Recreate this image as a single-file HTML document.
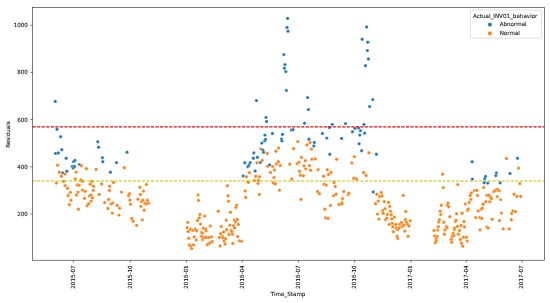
<!DOCTYPE html>
<html><head><meta charset="utf-8"><title>Residuals</title>
<style>html,body{margin:0;padding:0;background:#fff}svg{display:block}text{font-family:"DejaVu Sans","Liberation Sans",sans-serif;fill:#1c1c1c;stroke:#1c1c1c;stroke-width:0.12px}</style></head>
<body>
<svg width="550" height="303" viewBox="0 0 550 303">
<rect width="550" height="303" fill="#fff"/>
<g stroke="#fff" stroke-width="0.3">
<circle cx="55.2" cy="101.4" r="1.7" fill="#1f77b4"/>
<circle cx="55.6" cy="153.4" r="1.7" fill="#1f77b4"/>
<circle cx="56.4" cy="183.1" r="1.7" fill="#ff7f0e"/>
<circle cx="57" cy="129.2" r="1.7" fill="#1f77b4"/>
<circle cx="57.6" cy="165.2" r="1.7" fill="#ff7f0e"/>
<circle cx="58.4" cy="153" r="1.7" fill="#1f77b4"/>
<circle cx="59.3" cy="172.3" r="1.7" fill="#ff7f0e"/>
<circle cx="60.6" cy="136.8" r="1.7" fill="#1f77b4"/>
<circle cx="61.4" cy="176.3" r="1.7" fill="#ff7f0e"/>
<circle cx="61.8" cy="149.8" r="1.7" fill="#1f77b4"/>
<circle cx="62.8" cy="172.9" r="1.7" fill="#1f77b4"/>
<circle cx="63.7" cy="181.4" r="1.7" fill="#ff7f0e"/>
<circle cx="65" cy="174.1" r="1.7" fill="#ff7f0e"/>
<circle cx="65" cy="185.6" r="1.7" fill="#ff7f0e"/>
<circle cx="66.2" cy="158.2" r="1.7" fill="#1f77b4"/>
<circle cx="66.8" cy="171.3" r="1.7" fill="#1f77b4"/>
<circle cx="67.6" cy="188.3" r="1.7" fill="#ff7f0e"/>
<circle cx="68.1" cy="195.5" r="1.7" fill="#ff7f0e"/>
<circle cx="69.4" cy="204.8" r="1.7" fill="#ff7f0e"/>
<circle cx="70.4" cy="192.4" r="1.7" fill="#ff7f0e"/>
<circle cx="71" cy="200.3" r="1.7" fill="#ff7f0e"/>
<circle cx="72.3" cy="166.4" r="1.7" fill="#1f77b4"/>
<circle cx="73.2" cy="168" r="1.7" fill="#1f77b4"/>
<circle cx="73.6" cy="161.6" r="1.7" fill="#1f77b4"/>
<circle cx="74.5" cy="166.5" r="1.7" fill="#1f77b4"/>
<circle cx="74.9" cy="160.4" r="1.7" fill="#1f77b4"/>
<circle cx="75.3" cy="178.9" r="1.7" fill="#ff7f0e"/>
<circle cx="76.1" cy="172.1" r="1.7" fill="#ff7f0e"/>
<circle cx="76.5" cy="195" r="1.7" fill="#ff7f0e"/>
<circle cx="77.2" cy="185" r="1.7" fill="#ff7f0e"/>
<circle cx="78" cy="192.1" r="1.7" fill="#ff7f0e"/>
<circle cx="78.4" cy="209.3" r="1.7" fill="#ff7f0e"/>
<circle cx="79" cy="185.3" r="1.7" fill="#ff7f0e"/>
<circle cx="79.6" cy="164.6" r="1.7" fill="#1f77b4"/>
<circle cx="80.9" cy="179.9" r="1.7" fill="#ff7f0e"/>
<circle cx="81.5" cy="165.7" r="1.7" fill="#ff7f0e"/>
<circle cx="82.3" cy="181.4" r="1.7" fill="#ff7f0e"/>
<circle cx="82.6" cy="190.2" r="1.7" fill="#ff7f0e"/>
<circle cx="84.5" cy="198.4" r="1.7" fill="#ff7f0e"/>
<circle cx="85.2" cy="191.4" r="1.7" fill="#ff7f0e"/>
<circle cx="86.4" cy="168.7" r="1.7" fill="#ff7f0e"/>
<circle cx="87.1" cy="205.8" r="1.7" fill="#ff7f0e"/>
<circle cx="88.6" cy="203.8" r="1.7" fill="#ff7f0e"/>
<circle cx="89.5" cy="196.1" r="1.7" fill="#ff7f0e"/>
<circle cx="90.2" cy="184.3" r="1.7" fill="#ff7f0e"/>
<circle cx="90.9" cy="194.9" r="1.7" fill="#ff7f0e"/>
<circle cx="91.2" cy="201.1" r="1.7" fill="#ff7f0e"/>
<circle cx="91.9" cy="181.4" r="1.7" fill="#ff7f0e"/>
<circle cx="92.4" cy="197.9" r="1.7" fill="#ff7f0e"/>
<circle cx="93.2" cy="190.4" r="1.7" fill="#ff7f0e"/>
<circle cx="93.5" cy="186.3" r="1.7" fill="#ff7f0e"/>
<circle cx="96.1" cy="169.4" r="1.7" fill="#ff7f0e"/>
<circle cx="97.8" cy="141.8" r="1.7" fill="#1f77b4"/>
<circle cx="98.6" cy="147.2" r="1.7" fill="#1f77b4"/>
<circle cx="99.2" cy="194.5" r="1.7" fill="#ff7f0e"/>
<circle cx="101.7" cy="184" r="1.7" fill="#ff7f0e"/>
<circle cx="102.4" cy="157.8" r="1.7" fill="#1f77b4"/>
<circle cx="102.8" cy="161.7" r="1.7" fill="#1f77b4"/>
<circle cx="104.7" cy="202.6" r="1.7" fill="#ff7f0e"/>
<circle cx="107.9" cy="208.4" r="1.7" fill="#ff7f0e"/>
<circle cx="108.7" cy="199.5" r="1.7" fill="#ff7f0e"/>
<circle cx="109.4" cy="190.5" r="1.7" fill="#ff7f0e"/>
<circle cx="109.7" cy="186.2" r="1.7" fill="#ff7f0e"/>
<circle cx="110.4" cy="172.2" r="1.7" fill="#1f77b4"/>
<circle cx="111" cy="203.9" r="1.7" fill="#ff7f0e"/>
<circle cx="112.3" cy="213.1" r="1.7" fill="#ff7f0e"/>
<circle cx="112.7" cy="202.9" r="1.7" fill="#ff7f0e"/>
<circle cx="113.5" cy="182.5" r="1.7" fill="#ff7f0e"/>
<circle cx="116.5" cy="162.6" r="1.7" fill="#1f77b4"/>
<circle cx="117.2" cy="205.4" r="1.7" fill="#ff7f0e"/>
<circle cx="119" cy="215.1" r="1.7" fill="#ff7f0e"/>
<circle cx="119.7" cy="208.3" r="1.7" fill="#ff7f0e"/>
<circle cx="121.5" cy="192.1" r="1.7" fill="#ff7f0e"/>
<circle cx="124.3" cy="167.8" r="1.7" fill="#ff7f0e"/>
<circle cx="127" cy="152.2" r="1.7" fill="#1f77b4"/>
<circle cx="128.6" cy="195.5" r="1.7" fill="#ff7f0e"/>
<circle cx="129.5" cy="193.7" r="1.7" fill="#ff7f0e"/>
<circle cx="129.9" cy="200" r="1.7" fill="#ff7f0e"/>
<circle cx="130.5" cy="204.2" r="1.7" fill="#ff7f0e"/>
<circle cx="131.8" cy="218.5" r="1.7" fill="#ff7f0e"/>
<circle cx="133.1" cy="221.2" r="1.7" fill="#ff7f0e"/>
<circle cx="136.6" cy="225.4" r="1.7" fill="#ff7f0e"/>
<circle cx="137.9" cy="199.3" r="1.7" fill="#ff7f0e"/>
<circle cx="139.8" cy="187.3" r="1.7" fill="#ff7f0e"/>
<circle cx="140.4" cy="194.5" r="1.7" fill="#ff7f0e"/>
<circle cx="141" cy="206.4" r="1.7" fill="#ff7f0e"/>
<circle cx="141.6" cy="201.6" r="1.7" fill="#ff7f0e"/>
<circle cx="142.3" cy="219.9" r="1.7" fill="#ff7f0e"/>
<circle cx="143" cy="200.1" r="1.7" fill="#ff7f0e"/>
<circle cx="143.5" cy="191.1" r="1.7" fill="#ff7f0e"/>
<circle cx="144.2" cy="210.2" r="1.7" fill="#ff7f0e"/>
<circle cx="144.9" cy="203.2" r="1.7" fill="#ff7f0e"/>
<circle cx="146.1" cy="204.1" r="1.7" fill="#ff7f0e"/>
<circle cx="146.5" cy="184.4" r="1.7" fill="#ff7f0e"/>
<circle cx="147.4" cy="200.3" r="1.7" fill="#ff7f0e"/>
<circle cx="148.4" cy="203" r="1.7" fill="#ff7f0e"/>
<circle cx="187.1" cy="227.6" r="1.7" fill="#ff7f0e"/>
<circle cx="187.7" cy="222.4" r="1.7" fill="#ff7f0e"/>
<circle cx="188.1" cy="231.5" r="1.7" fill="#ff7f0e"/>
<circle cx="188.7" cy="238.3" r="1.7" fill="#ff7f0e"/>
<circle cx="189.2" cy="244.9" r="1.7" fill="#ff7f0e"/>
<circle cx="190.6" cy="229.3" r="1.7" fill="#ff7f0e"/>
<circle cx="190.6" cy="246" r="1.7" fill="#ff7f0e"/>
<circle cx="191.7" cy="248.6" r="1.7" fill="#ff7f0e"/>
<circle cx="193.1" cy="230.4" r="1.7" fill="#ff7f0e"/>
<circle cx="193.6" cy="244.9" r="1.7" fill="#ff7f0e"/>
<circle cx="194.2" cy="236.9" r="1.7" fill="#ff7f0e"/>
<circle cx="195.3" cy="229.3" r="1.7" fill="#ff7f0e"/>
<circle cx="196.3" cy="239.9" r="1.7" fill="#ff7f0e"/>
<circle cx="196.7" cy="230.7" r="1.7" fill="#ff7f0e"/>
<circle cx="197.5" cy="220.5" r="1.7" fill="#ff7f0e"/>
<circle cx="198" cy="194.9" r="1.7" fill="#ff7f0e"/>
<circle cx="198.6" cy="200.4" r="1.7" fill="#ff7f0e"/>
<circle cx="199.3" cy="217.9" r="1.7" fill="#ff7f0e"/>
<circle cx="199.9" cy="214.5" r="1.7" fill="#ff7f0e"/>
<circle cx="200.5" cy="224.1" r="1.7" fill="#ff7f0e"/>
<circle cx="201.5" cy="232.5" r="1.7" fill="#ff7f0e"/>
<circle cx="201.5" cy="236.4" r="1.7" fill="#ff7f0e"/>
<circle cx="202.4" cy="233.1" r="1.7" fill="#ff7f0e"/>
<circle cx="202.6" cy="239.6" r="1.7" fill="#ff7f0e"/>
<circle cx="203.2" cy="238" r="1.7" fill="#ff7f0e"/>
<circle cx="203.4" cy="228.2" r="1.7" fill="#ff7f0e"/>
<circle cx="204.5" cy="237.2" r="1.7" fill="#ff7f0e"/>
<circle cx="204.7" cy="216.1" r="1.7" fill="#ff7f0e"/>
<circle cx="205.6" cy="228.9" r="1.7" fill="#ff7f0e"/>
<circle cx="206.1" cy="230.9" r="1.7" fill="#ff7f0e"/>
<circle cx="206.5" cy="237.5" r="1.7" fill="#ff7f0e"/>
<circle cx="207.2" cy="244.9" r="1.7" fill="#ff7f0e"/>
<circle cx="208.3" cy="243.8" r="1.7" fill="#ff7f0e"/>
<circle cx="208.6" cy="237.5" r="1.7" fill="#ff7f0e"/>
<circle cx="209.7" cy="242.9" r="1.7" fill="#ff7f0e"/>
<circle cx="210.3" cy="225.9" r="1.7" fill="#ff7f0e"/>
<circle cx="211.4" cy="236.9" r="1.7" fill="#ff7f0e"/>
<circle cx="212.2" cy="241.5" r="1.7" fill="#ff7f0e"/>
<circle cx="218.3" cy="211.3" r="1.7" fill="#ff7f0e"/>
<circle cx="219.3" cy="237.5" r="1.7" fill="#ff7f0e"/>
<circle cx="220.1" cy="246" r="1.7" fill="#ff7f0e"/>
<circle cx="220.6" cy="233.6" r="1.7" fill="#ff7f0e"/>
<circle cx="221.2" cy="226.5" r="1.7" fill="#ff7f0e"/>
<circle cx="222.3" cy="236.4" r="1.7" fill="#ff7f0e"/>
<circle cx="223" cy="238" r="1.7" fill="#ff7f0e"/>
<circle cx="223.6" cy="232" r="1.7" fill="#ff7f0e"/>
<circle cx="224.2" cy="240.9" r="1.7" fill="#ff7f0e"/>
<circle cx="225" cy="244" r="1.7" fill="#ff7f0e"/>
<circle cx="225.5" cy="238.8" r="1.7" fill="#ff7f0e"/>
<circle cx="226.3" cy="220.3" r="1.7" fill="#ff7f0e"/>
<circle cx="226.6" cy="229.8" r="1.7" fill="#ff7f0e"/>
<circle cx="227.4" cy="185.7" r="1.7" fill="#ff7f0e"/>
<circle cx="228" cy="195.8" r="1.7" fill="#ff7f0e"/>
<circle cx="228.6" cy="201.3" r="1.7" fill="#ff7f0e"/>
<circle cx="229" cy="234.4" r="1.7" fill="#ff7f0e"/>
<circle cx="229.9" cy="225.1" r="1.7" fill="#ff7f0e"/>
<circle cx="230.5" cy="212.3" r="1.7" fill="#ff7f0e"/>
<circle cx="231.2" cy="230.4" r="1.7" fill="#ff7f0e"/>
<circle cx="231.8" cy="231.8" r="1.7" fill="#ff7f0e"/>
<circle cx="232.4" cy="234.2" r="1.7" fill="#ff7f0e"/>
<circle cx="232.9" cy="243.5" r="1.7" fill="#ff7f0e"/>
<circle cx="233.5" cy="225.7" r="1.7" fill="#ff7f0e"/>
<circle cx="234.4" cy="219.9" r="1.7" fill="#ff7f0e"/>
<circle cx="234.6" cy="227.9" r="1.7" fill="#ff7f0e"/>
<circle cx="235.4" cy="222.1" r="1.7" fill="#ff7f0e"/>
<circle cx="235.6" cy="221.1" r="1.7" fill="#ff7f0e"/>
<circle cx="235.9" cy="207.4" r="1.7" fill="#ff7f0e"/>
<circle cx="236.6" cy="205.1" r="1.7" fill="#ff7f0e"/>
<circle cx="237.3" cy="219.5" r="1.7" fill="#ff7f0e"/>
<circle cx="237.8" cy="236.6" r="1.7" fill="#ff7f0e"/>
<circle cx="238.5" cy="224.4" r="1.7" fill="#ff7f0e"/>
<circle cx="239.2" cy="240.9" r="1.7" fill="#ff7f0e"/>
<circle cx="241.4" cy="241.3" r="1.7" fill="#ff7f0e"/>
<circle cx="243.2" cy="176" r="1.7" fill="#1f77b4"/>
<circle cx="244.8" cy="162.7" r="1.7" fill="#1f77b4"/>
<circle cx="245.2" cy="191" r="1.7" fill="#ff7f0e"/>
<circle cx="245.7" cy="197.4" r="1.7" fill="#ff7f0e"/>
<circle cx="246.4" cy="176.8" r="1.7" fill="#ff7f0e"/>
<circle cx="247.6" cy="182" r="1.7" fill="#ff7f0e"/>
<circle cx="247.8" cy="166.7" r="1.7" fill="#1f77b4"/>
<circle cx="248.6" cy="182.3" r="1.7" fill="#ff7f0e"/>
<circle cx="248.9" cy="165.3" r="1.7" fill="#1f77b4"/>
<circle cx="249.5" cy="172.7" r="1.7" fill="#ff7f0e"/>
<circle cx="250.2" cy="162.6" r="1.7" fill="#1f77b4"/>
<circle cx="253.3" cy="158.2" r="1.7" fill="#1f77b4"/>
<circle cx="253.8" cy="152.9" r="1.7" fill="#1f77b4"/>
<circle cx="254.4" cy="180.6" r="1.7" fill="#ff7f0e"/>
<circle cx="255.1" cy="171" r="1.7" fill="#1f77b4"/>
<circle cx="255.7" cy="176.3" r="1.7" fill="#ff7f0e"/>
<circle cx="256.4" cy="100.6" r="1.7" fill="#1f77b4"/>
<circle cx="256.9" cy="162.9" r="1.7" fill="#ff7f0e"/>
<circle cx="257.4" cy="157.2" r="1.7" fill="#1f77b4"/>
<circle cx="258" cy="183.6" r="1.7" fill="#ff7f0e"/>
<circle cx="258.5" cy="180.4" r="1.7" fill="#ff7f0e"/>
<circle cx="259.3" cy="194.5" r="1.7" fill="#ff7f0e"/>
<circle cx="259.5" cy="176.8" r="1.7" fill="#ff7f0e"/>
<circle cx="260.4" cy="162.4" r="1.7" fill="#1f77b4"/>
<circle cx="260.9" cy="148.9" r="1.7" fill="#ff7f0e"/>
<circle cx="261.8" cy="143.1" r="1.7" fill="#1f77b4"/>
<circle cx="262.2" cy="160.4" r="1.7" fill="#ff7f0e"/>
<circle cx="262.9" cy="150.1" r="1.7" fill="#1f77b4"/>
<circle cx="263.6" cy="152.2" r="1.7" fill="#1f77b4"/>
<circle cx="264.7" cy="140.9" r="1.7" fill="#1f77b4"/>
<circle cx="264.9" cy="135.1" r="1.7" fill="#1f77b4"/>
<circle cx="265.5" cy="139.5" r="1.7" fill="#1f77b4"/>
<circle cx="266" cy="117.4" r="1.7" fill="#1f77b4"/>
<circle cx="266.6" cy="121.5" r="1.7" fill="#1f77b4"/>
<circle cx="267.2" cy="153.4" r="1.7" fill="#ff7f0e"/>
<circle cx="267.7" cy="166.2" r="1.7" fill="#ff7f0e"/>
<circle cx="269.6" cy="164.9" r="1.7" fill="#1f77b4"/>
<circle cx="270.4" cy="172.5" r="1.7" fill="#ff7f0e"/>
<circle cx="272.4" cy="133.5" r="1.7" fill="#1f77b4"/>
<circle cx="272.7" cy="166.4" r="1.7" fill="#ff7f0e"/>
<circle cx="273.1" cy="182.9" r="1.7" fill="#ff7f0e"/>
<circle cx="274" cy="177.4" r="1.7" fill="#ff7f0e"/>
<circle cx="274.5" cy="170" r="1.7" fill="#ff7f0e"/>
<circle cx="275.4" cy="184" r="1.7" fill="#ff7f0e"/>
<circle cx="275.9" cy="151.2" r="1.7" fill="#ff7f0e"/>
<circle cx="276.4" cy="164" r="1.7" fill="#ff7f0e"/>
<circle cx="278.4" cy="161.8" r="1.7" fill="#ff7f0e"/>
<circle cx="278.6" cy="147.9" r="1.7" fill="#ff7f0e"/>
<circle cx="279.5" cy="190.2" r="1.7" fill="#ff7f0e"/>
<circle cx="280.2" cy="165.6" r="1.7" fill="#ff7f0e"/>
<circle cx="281.4" cy="138.9" r="1.7" fill="#1f77b4"/>
<circle cx="281.9" cy="140.9" r="1.7" fill="#1f77b4"/>
<circle cx="282.5" cy="134.5" r="1.7" fill="#1f77b4"/>
<circle cx="283.8" cy="54.6" r="1.7" fill="#1f77b4"/>
<circle cx="284.4" cy="68.2" r="1.7" fill="#1f77b4"/>
<circle cx="285" cy="64.6" r="1.7" fill="#1f77b4"/>
<circle cx="285.8" cy="71.6" r="1.7" fill="#1f77b4"/>
<circle cx="286.4" cy="90.4" r="1.7" fill="#1f77b4"/>
<circle cx="287" cy="27.4" r="1.7" fill="#1f77b4"/>
<circle cx="287.6" cy="18.4" r="1.7" fill="#1f77b4"/>
<circle cx="288" cy="31.2" r="1.7" fill="#1f77b4"/>
<circle cx="289.8" cy="164.2" r="1.7" fill="#ff7f0e"/>
<circle cx="291.5" cy="130" r="1.7" fill="#1f77b4"/>
<circle cx="291.7" cy="178.9" r="1.7" fill="#ff7f0e"/>
<circle cx="293.1" cy="129.6" r="1.7" fill="#1f77b4"/>
<circle cx="293.6" cy="148.7" r="1.7" fill="#ff7f0e"/>
<circle cx="297.2" cy="163.7" r="1.7" fill="#ff7f0e"/>
<circle cx="297.8" cy="141.6" r="1.7" fill="#ff7f0e"/>
<circle cx="299.1" cy="162.1" r="1.7" fill="#ff7f0e"/>
<circle cx="299.6" cy="171.3" r="1.7" fill="#ff7f0e"/>
<circle cx="300.4" cy="175.2" r="1.7" fill="#ff7f0e"/>
<circle cx="301" cy="199.4" r="1.7" fill="#ff7f0e"/>
<circle cx="301.5" cy="157.5" r="1.7" fill="#ff7f0e"/>
<circle cx="303.4" cy="175.7" r="1.7" fill="#ff7f0e"/>
<circle cx="304" cy="165.9" r="1.7" fill="#ff7f0e"/>
<circle cx="304.5" cy="123.3" r="1.7" fill="#1f77b4"/>
<circle cx="305.3" cy="160.7" r="1.7" fill="#ff7f0e"/>
<circle cx="305.8" cy="168.9" r="1.7" fill="#ff7f0e"/>
<circle cx="306.9" cy="144.9" r="1.7" fill="#ff7f0e"/>
<circle cx="307.6" cy="97.6" r="1.7" fill="#1f77b4"/>
<circle cx="308.4" cy="109.6" r="1.7" fill="#1f77b4"/>
<circle cx="308.9" cy="139.2" r="1.7" fill="#1f77b4"/>
<circle cx="309.5" cy="165.6" r="1.7" fill="#ff7f0e"/>
<circle cx="310" cy="142.5" r="1.7" fill="#ff7f0e"/>
<circle cx="310.7" cy="170.3" r="1.7" fill="#ff7f0e"/>
<circle cx="311.5" cy="149.1" r="1.7" fill="#ff7f0e"/>
<circle cx="312" cy="159.3" r="1.7" fill="#ff7f0e"/>
<circle cx="313.8" cy="146" r="1.7" fill="#1f77b4"/>
<circle cx="314.3" cy="142.5" r="1.7" fill="#1f77b4"/>
<circle cx="315.3" cy="158.9" r="1.7" fill="#ff7f0e"/>
<circle cx="317.5" cy="191.5" r="1.7" fill="#ff7f0e"/>
<circle cx="318.1" cy="169.7" r="1.7" fill="#ff7f0e"/>
<circle cx="319.5" cy="193.7" r="1.7" fill="#ff7f0e"/>
<circle cx="322.4" cy="133.5" r="1.7" fill="#1f77b4"/>
<circle cx="323.6" cy="176.3" r="1.7" fill="#ff7f0e"/>
<circle cx="324.1" cy="184.2" r="1.7" fill="#ff7f0e"/>
<circle cx="324.8" cy="209.2" r="1.7" fill="#ff7f0e"/>
<circle cx="325.6" cy="217.8" r="1.7" fill="#ff7f0e"/>
<circle cx="326.3" cy="185.1" r="1.7" fill="#ff7f0e"/>
<circle cx="326.8" cy="138.1" r="1.7" fill="#1f77b4"/>
<circle cx="327.3" cy="169.7" r="1.7" fill="#ff7f0e"/>
<circle cx="328" cy="218.4" r="1.7" fill="#ff7f0e"/>
<circle cx="328.4" cy="174.6" r="1.7" fill="#ff7f0e"/>
<circle cx="329.3" cy="127.5" r="1.7" fill="#1f77b4"/>
<circle cx="329.8" cy="154.2" r="1.7" fill="#1f77b4"/>
<circle cx="330.4" cy="205.4" r="1.7" fill="#ff7f0e"/>
<circle cx="330.9" cy="172.5" r="1.7" fill="#ff7f0e"/>
<circle cx="332.3" cy="124.4" r="1.7" fill="#1f77b4"/>
<circle cx="333.6" cy="195.6" r="1.7" fill="#ff7f0e"/>
<circle cx="334" cy="182.5" r="1.7" fill="#ff7f0e"/>
<circle cx="335.3" cy="186.6" r="1.7" fill="#ff7f0e"/>
<circle cx="336" cy="194.2" r="1.7" fill="#ff7f0e"/>
<circle cx="336.6" cy="159.3" r="1.7" fill="#ff7f0e"/>
<circle cx="339" cy="204.4" r="1.7" fill="#ff7f0e"/>
<circle cx="341.6" cy="138.4" r="1.7" fill="#1f77b4"/>
<circle cx="342" cy="202.5" r="1.7" fill="#ff7f0e"/>
<circle cx="342" cy="204" r="1.7" fill="#ff7f0e"/>
<circle cx="342.6" cy="198.6" r="1.7" fill="#ff7f0e"/>
<circle cx="343.8" cy="191.5" r="1.7" fill="#ff7f0e"/>
<circle cx="345.6" cy="123.6" r="1.7" fill="#1f77b4"/>
<circle cx="348.1" cy="194.5" r="1.7" fill="#ff7f0e"/>
<circle cx="348.9" cy="193.2" r="1.7" fill="#ff7f0e"/>
<circle cx="351.9" cy="162.9" r="1.7" fill="#ff7f0e"/>
<circle cx="352.4" cy="131.8" r="1.7" fill="#1f77b4"/>
<circle cx="353.8" cy="178.2" r="1.7" fill="#ff7f0e"/>
<circle cx="354.4" cy="156.6" r="1.7" fill="#ff7f0e"/>
<circle cx="354.9" cy="128.5" r="1.7" fill="#1f77b4"/>
<circle cx="356.4" cy="178.9" r="1.7" fill="#ff7f0e"/>
<circle cx="358.6" cy="128" r="1.7" fill="#1f77b4"/>
<circle cx="359.1" cy="143.8" r="1.7" fill="#1f77b4"/>
<circle cx="359.8" cy="135.1" r="1.7" fill="#1f77b4"/>
<circle cx="360.5" cy="130.7" r="1.7" fill="#1f77b4"/>
<circle cx="361.6" cy="150.7" r="1.7" fill="#1f77b4"/>
<circle cx="362.2" cy="39.2" r="1.7" fill="#1f77b4"/>
<circle cx="363.6" cy="172.5" r="1.7" fill="#ff7f0e"/>
<circle cx="364" cy="124.4" r="1.7" fill="#1f77b4"/>
<circle cx="364.6" cy="133.2" r="1.7" fill="#1f77b4"/>
<circle cx="365.4" cy="65.8" r="1.7" fill="#1f77b4"/>
<circle cx="366" cy="175.5" r="1.7" fill="#ff7f0e"/>
<circle cx="366.6" cy="27" r="1.7" fill="#1f77b4"/>
<circle cx="367.4" cy="50.6" r="1.7" fill="#1f77b4"/>
<circle cx="367.8" cy="42.2" r="1.7" fill="#1f77b4"/>
<circle cx="368.4" cy="59" r="1.7" fill="#1f77b4"/>
<circle cx="368.9" cy="152.8" r="1.7" fill="#ff7f0e"/>
<circle cx="369.6" cy="106.6" r="1.7" fill="#1f77b4"/>
<circle cx="372.8" cy="99.6" r="1.7" fill="#1f77b4"/>
<circle cx="373.3" cy="192" r="1.7" fill="#1f77b4"/>
<circle cx="375.6" cy="203.7" r="1.7" fill="#ff7f0e"/>
<circle cx="376.4" cy="154.2" r="1.7" fill="#1f77b4"/>
<circle cx="376.9" cy="194.2" r="1.7" fill="#ff7f0e"/>
<circle cx="377.5" cy="214.1" r="1.7" fill="#ff7f0e"/>
<circle cx="378.3" cy="200.9" r="1.7" fill="#ff7f0e"/>
<circle cx="378.9" cy="219.1" r="1.7" fill="#ff7f0e"/>
<circle cx="379.9" cy="196.4" r="1.7" fill="#ff7f0e"/>
<circle cx="381.3" cy="192.4" r="1.7" fill="#ff7f0e"/>
<circle cx="382.1" cy="195.9" r="1.7" fill="#ff7f0e"/>
<circle cx="382.7" cy="210.5" r="1.7" fill="#ff7f0e"/>
<circle cx="383.2" cy="213.3" r="1.7" fill="#ff7f0e"/>
<circle cx="384.3" cy="201.6" r="1.7" fill="#ff7f0e"/>
<circle cx="385.1" cy="208.6" r="1.7" fill="#ff7f0e"/>
<circle cx="385.6" cy="219.8" r="1.7" fill="#ff7f0e"/>
<circle cx="386.7" cy="218.2" r="1.7" fill="#ff7f0e"/>
<circle cx="387.5" cy="214.4" r="1.7" fill="#ff7f0e"/>
<circle cx="388.4" cy="202.4" r="1.7" fill="#ff7f0e"/>
<circle cx="389.1" cy="224.4" r="1.7" fill="#ff7f0e"/>
<circle cx="389.8" cy="206.5" r="1.7" fill="#ff7f0e"/>
<circle cx="390.5" cy="211.3" r="1.7" fill="#ff7f0e"/>
<circle cx="391.3" cy="214.7" r="1.7" fill="#ff7f0e"/>
<circle cx="391.9" cy="218.9" r="1.7" fill="#ff7f0e"/>
<circle cx="392.2" cy="223.4" r="1.7" fill="#ff7f0e"/>
<circle cx="392.7" cy="226.9" r="1.7" fill="#ff7f0e"/>
<circle cx="393.4" cy="231.8" r="1.7" fill="#ff7f0e"/>
<circle cx="394.4" cy="217.1" r="1.7" fill="#ff7f0e"/>
<circle cx="395.8" cy="224.5" r="1.7" fill="#ff7f0e"/>
<circle cx="396" cy="228" r="1.7" fill="#ff7f0e"/>
<circle cx="397.1" cy="236.2" r="1.7" fill="#ff7f0e"/>
<circle cx="397.6" cy="229.6" r="1.7" fill="#ff7f0e"/>
<circle cx="397.8" cy="238.4" r="1.7" fill="#ff7f0e"/>
<circle cx="399.1" cy="228" r="1.7" fill="#ff7f0e"/>
<circle cx="399.8" cy="224.2" r="1.7" fill="#ff7f0e"/>
<circle cx="401.5" cy="222.5" r="1.7" fill="#ff7f0e"/>
<circle cx="402" cy="226.6" r="1.7" fill="#ff7f0e"/>
<circle cx="403.3" cy="195.4" r="1.7" fill="#ff7f0e"/>
<circle cx="403.6" cy="225.3" r="1.7" fill="#ff7f0e"/>
<circle cx="404.8" cy="231.1" r="1.7" fill="#ff7f0e"/>
<circle cx="405.3" cy="219.5" r="1.7" fill="#ff7f0e"/>
<circle cx="405.8" cy="211.4" r="1.7" fill="#ff7f0e"/>
<circle cx="406.4" cy="222" r="1.7" fill="#ff7f0e"/>
<circle cx="407.5" cy="224.2" r="1.7" fill="#ff7f0e"/>
<circle cx="408.1" cy="236.2" r="1.7" fill="#ff7f0e"/>
<circle cx="409.1" cy="226" r="1.7" fill="#ff7f0e"/>
<circle cx="410.2" cy="220.9" r="1.7" fill="#ff7f0e"/>
<circle cx="434" cy="230.5" r="1.7" fill="#ff7f0e"/>
<circle cx="434.5" cy="235.9" r="1.7" fill="#ff7f0e"/>
<circle cx="435.1" cy="242.9" r="1.7" fill="#ff7f0e"/>
<circle cx="436" cy="238.6" r="1.7" fill="#ff7f0e"/>
<circle cx="436.2" cy="240.9" r="1.7" fill="#ff7f0e"/>
<circle cx="437.1" cy="236.4" r="1.7" fill="#ff7f0e"/>
<circle cx="437.8" cy="230" r="1.7" fill="#ff7f0e"/>
<circle cx="438.4" cy="226.6" r="1.7" fill="#ff7f0e"/>
<circle cx="438.7" cy="222" r="1.7" fill="#ff7f0e"/>
<circle cx="439.5" cy="219.8" r="1.7" fill="#ff7f0e"/>
<circle cx="440.2" cy="211.1" r="1.7" fill="#ff7f0e"/>
<circle cx="440.8" cy="214.4" r="1.7" fill="#ff7f0e"/>
<circle cx="441.3" cy="205.3" r="1.7" fill="#ff7f0e"/>
<circle cx="442.6" cy="174.2" r="1.7" fill="#ff7f0e"/>
<circle cx="443.3" cy="187.6" r="1.7" fill="#ff7f0e"/>
<circle cx="443.8" cy="222.3" r="1.7" fill="#ff7f0e"/>
<circle cx="444.4" cy="234.2" r="1.7" fill="#ff7f0e"/>
<circle cx="444.9" cy="230" r="1.7" fill="#ff7f0e"/>
<circle cx="446.3" cy="226.4" r="1.7" fill="#ff7f0e"/>
<circle cx="446.9" cy="227.7" r="1.7" fill="#ff7f0e"/>
<circle cx="447.4" cy="205.3" r="1.7" fill="#ff7f0e"/>
<circle cx="448" cy="202.9" r="1.7" fill="#ff7f0e"/>
<circle cx="448.7" cy="206.7" r="1.7" fill="#ff7f0e"/>
<circle cx="449.8" cy="216.8" r="1.7" fill="#ff7f0e"/>
<circle cx="451.1" cy="239.5" r="1.7" fill="#ff7f0e"/>
<circle cx="451.8" cy="242.4" r="1.7" fill="#ff7f0e"/>
<circle cx="452.2" cy="236.4" r="1.7" fill="#ff7f0e"/>
<circle cx="453.1" cy="233.5" r="1.7" fill="#ff7f0e"/>
<circle cx="453.9" cy="235.6" r="1.7" fill="#ff7f0e"/>
<circle cx="454.2" cy="229.6" r="1.7" fill="#ff7f0e"/>
<circle cx="454.5" cy="228" r="1.7" fill="#ff7f0e"/>
<circle cx="455.3" cy="221.5" r="1.7" fill="#ff7f0e"/>
<circle cx="456" cy="220.4" r="1.7" fill="#ff7f0e"/>
<circle cx="456.6" cy="213.8" r="1.7" fill="#ff7f0e"/>
<circle cx="457.5" cy="226.4" r="1.7" fill="#ff7f0e"/>
<circle cx="457.8" cy="184.6" r="1.7" fill="#ff7f0e"/>
<circle cx="458.3" cy="234.2" r="1.7" fill="#ff7f0e"/>
<circle cx="459.6" cy="230.5" r="1.7" fill="#ff7f0e"/>
<circle cx="460.4" cy="239.5" r="1.7" fill="#ff7f0e"/>
<circle cx="461.1" cy="225.5" r="1.7" fill="#ff7f0e"/>
<circle cx="461.5" cy="243.2" r="1.7" fill="#ff7f0e"/>
<circle cx="462.1" cy="213.3" r="1.7" fill="#ff7f0e"/>
<circle cx="462.7" cy="246.2" r="1.7" fill="#ff7f0e"/>
<circle cx="463.5" cy="237.3" r="1.7" fill="#ff7f0e"/>
<circle cx="464" cy="221.5" r="1.7" fill="#ff7f0e"/>
<circle cx="464.5" cy="226.9" r="1.7" fill="#ff7f0e"/>
<circle cx="465.3" cy="204" r="1.7" fill="#ff7f0e"/>
<circle cx="466.5" cy="237.3" r="1.7" fill="#ff7f0e"/>
<circle cx="467.3" cy="241.1" r="1.7" fill="#ff7f0e"/>
<circle cx="467.5" cy="210.5" r="1.7" fill="#ff7f0e"/>
<circle cx="468.1" cy="208.9" r="1.7" fill="#ff7f0e"/>
<circle cx="469.1" cy="202.4" r="1.7" fill="#ff7f0e"/>
<circle cx="470.2" cy="195.5" r="1.7" fill="#ff7f0e"/>
<circle cx="470.9" cy="199.4" r="1.7" fill="#ff7f0e"/>
<circle cx="471.4" cy="192.9" r="1.7" fill="#ff7f0e"/>
<circle cx="472.1" cy="161.8" r="1.7" fill="#1f77b4"/>
<circle cx="472.4" cy="179.1" r="1.7" fill="#1f77b4"/>
<circle cx="474.4" cy="190.6" r="1.7" fill="#ff7f0e"/>
<circle cx="475.7" cy="217.6" r="1.7" fill="#ff7f0e"/>
<circle cx="476.9" cy="190.4" r="1.7" fill="#ff7f0e"/>
<circle cx="477.4" cy="195.5" r="1.7" fill="#ff7f0e"/>
<circle cx="478.2" cy="210.9" r="1.7" fill="#ff7f0e"/>
<circle cx="479.8" cy="217.6" r="1.7" fill="#ff7f0e"/>
<circle cx="480.1" cy="229.9" r="1.7" fill="#ff7f0e"/>
<circle cx="481.2" cy="209.2" r="1.7" fill="#ff7f0e"/>
<circle cx="481.8" cy="218.4" r="1.7" fill="#ff7f0e"/>
<circle cx="482.3" cy="208.1" r="1.7" fill="#ff7f0e"/>
<circle cx="483.1" cy="204.2" r="1.7" fill="#ff7f0e"/>
<circle cx="483.6" cy="187.6" r="1.7" fill="#ff7f0e"/>
<circle cx="484.2" cy="182.7" r="1.7" fill="#1f77b4"/>
<circle cx="484.7" cy="178.8" r="1.7" fill="#1f77b4"/>
<circle cx="485.5" cy="176.4" r="1.7" fill="#1f77b4"/>
<circle cx="485.8" cy="201.8" r="1.7" fill="#ff7f0e"/>
<circle cx="486.9" cy="195.3" r="1.7" fill="#ff7f0e"/>
<circle cx="486.9" cy="226.9" r="1.7" fill="#ff7f0e"/>
<circle cx="487.8" cy="183.1" r="1.7" fill="#1f77b4"/>
<circle cx="488.2" cy="228" r="1.7" fill="#ff7f0e"/>
<circle cx="488.7" cy="195.3" r="1.7" fill="#ff7f0e"/>
<circle cx="489.8" cy="201.8" r="1.7" fill="#ff7f0e"/>
<circle cx="490.4" cy="196.9" r="1.7" fill="#ff7f0e"/>
<circle cx="491.5" cy="198.5" r="1.7" fill="#ff7f0e"/>
<circle cx="492.2" cy="219.3" r="1.7" fill="#ff7f0e"/>
<circle cx="493.9" cy="191.5" r="1.7" fill="#ff7f0e"/>
<circle cx="495.3" cy="190.4" r="1.7" fill="#ff7f0e"/>
<circle cx="495.8" cy="175.6" r="1.7" fill="#1f77b4"/>
<circle cx="496.4" cy="172.9" r="1.7" fill="#1f77b4"/>
<circle cx="497.2" cy="196.6" r="1.7" fill="#ff7f0e"/>
<circle cx="497.5" cy="189.3" r="1.7" fill="#ff7f0e"/>
<circle cx="499.1" cy="190.9" r="1.7" fill="#ff7f0e"/>
<circle cx="499.4" cy="220.6" r="1.7" fill="#ff7f0e"/>
<circle cx="500.2" cy="182.9" r="1.7" fill="#1f77b4"/>
<circle cx="500.7" cy="199.6" r="1.7" fill="#ff7f0e"/>
<circle cx="501.5" cy="213.1" r="1.7" fill="#ff7f0e"/>
<circle cx="503.2" cy="228.9" r="1.7" fill="#ff7f0e"/>
<circle cx="506.5" cy="158.5" r="1.7" fill="#ff7f0e"/>
<circle cx="509.2" cy="228.9" r="1.7" fill="#ff7f0e"/>
<circle cx="510" cy="173.4" r="1.7" fill="#1f77b4"/>
<circle cx="511.3" cy="219.8" r="1.7" fill="#ff7f0e"/>
<circle cx="511.6" cy="213.6" r="1.7" fill="#ff7f0e"/>
<circle cx="512.9" cy="210.9" r="1.7" fill="#ff7f0e"/>
<circle cx="514.1" cy="194.2" r="1.7" fill="#ff7f0e"/>
<circle cx="515.5" cy="211.6" r="1.7" fill="#ff7f0e"/>
<circle cx="516.9" cy="196.4" r="1.7" fill="#ff7f0e"/>
<circle cx="517.5" cy="158.3" r="1.7" fill="#1f77b4"/>
<circle cx="518.5" cy="168.1" r="1.7" fill="#ff7f0e"/>
<circle cx="519.8" cy="183.6" r="1.7" fill="#ff7f0e"/>
<circle cx="520.6" cy="196.4" r="1.7" fill="#ff7f0e"/>
</g>
<g fill="none" stroke-width="1.15" stroke-dasharray="3.18 1.374" stroke-dashoffset="0.1">
<line x1="32.6" x2="544.4" y1="126.85" y2="126.85" stroke="#ff0000"/>
<line x1="32.6" x2="544.4" y1="181.0" y2="181.0" stroke="#bfbf00"/>
</g>
<rect x="32.6" y="7.4" width="511.8" height="252.8" fill="none" stroke="#111" stroke-width="0.55"/>
<g stroke="#000" stroke-width="0.5">
<line x1="73.4" x2="73.4" y1="260.2" y2="262.6"/>
<line x1="130.2" x2="130.2" y1="260.2" y2="262.6"/>
<line x1="186.4" x2="186.4" y1="260.2" y2="262.6"/>
<line x1="242.2" x2="242.2" y1="260.2" y2="262.6"/>
<line x1="298.4" x2="298.4" y1="260.2" y2="262.6"/>
<line x1="354.6" x2="354.6" y1="260.2" y2="262.6"/>
<line x1="411.0" x2="411.0" y1="260.2" y2="262.6"/>
<line x1="466.2" x2="466.2" y1="260.2" y2="262.6"/>
<line x1="522.0" x2="522.0" y1="260.2" y2="262.6"/>
<line x1="30.2" x2="32.6" y1="25.3" y2="25.3"/>
<line x1="30.2" x2="32.6" y1="72.4" y2="72.4"/>
<line x1="30.2" x2="32.6" y1="119.5" y2="119.5"/>
<line x1="30.2" x2="32.6" y1="166.8" y2="166.8"/>
<line x1="30.2" x2="32.6" y1="214.0" y2="214.0"/>
</g>
<g font-size="5.6">
<text transform="translate(74.80,265.35) rotate(-90)" text-anchor="end">2015-07</text>
<text transform="translate(131.60,265.35) rotate(-90)" text-anchor="end">2015-10</text>
<text transform="translate(187.80,265.35) rotate(-90)" text-anchor="end">2016-01</text>
<text transform="translate(243.60,265.35) rotate(-90)" text-anchor="end">2016-04</text>
<text transform="translate(299.80,265.35) rotate(-90)" text-anchor="end">2016-07</text>
<text transform="translate(356.00,265.35) rotate(-90)" text-anchor="end">2016-10</text>
<text transform="translate(412.40,265.35) rotate(-90)" text-anchor="end">2017-01</text>
<text transform="translate(467.60,265.35) rotate(-90)" text-anchor="end">2017-04</text>
<text transform="translate(523.40,265.35) rotate(-90)" text-anchor="end">2017-07</text>
<text x="27.9" y="27.35" text-anchor="end">1000</text>
<text x="27.9" y="74.45" text-anchor="end">800</text>
<text x="27.9" y="121.55" text-anchor="end">600</text>
<text x="27.9" y="168.85" text-anchor="end">400</text>
<text x="27.9" y="216.05" text-anchor="end">200</text>
<text x="288.1" y="296.0" text-anchor="middle">Time_Stamp</text>
<text transform="translate(9.75,134.6) rotate(-90)" text-anchor="middle">Residuals</text>
</g>
<rect x="470.4" y="10.1" width="71" height="28" rx="1.1" fill="#fff" fill-opacity="0.8" stroke="#c8c8c8" stroke-width="0.6"/>
<g font-size="5.6">
<text x="505.2" y="17.55" text-anchor="middle">Actual_INV01_behavior</text>
<text x="499.65" y="25.95">Abnormal</text>
<text x="499.65" y="34.7">Normal</text>
</g>
<g stroke="#fff" stroke-width="0.3"><circle cx="489.9" cy="24.7" r="2.1" fill="#1f77b4"/><circle cx="489.9" cy="33.4" r="2.1" fill="#ff7f0e"/></g>
</svg>
</body></html>
